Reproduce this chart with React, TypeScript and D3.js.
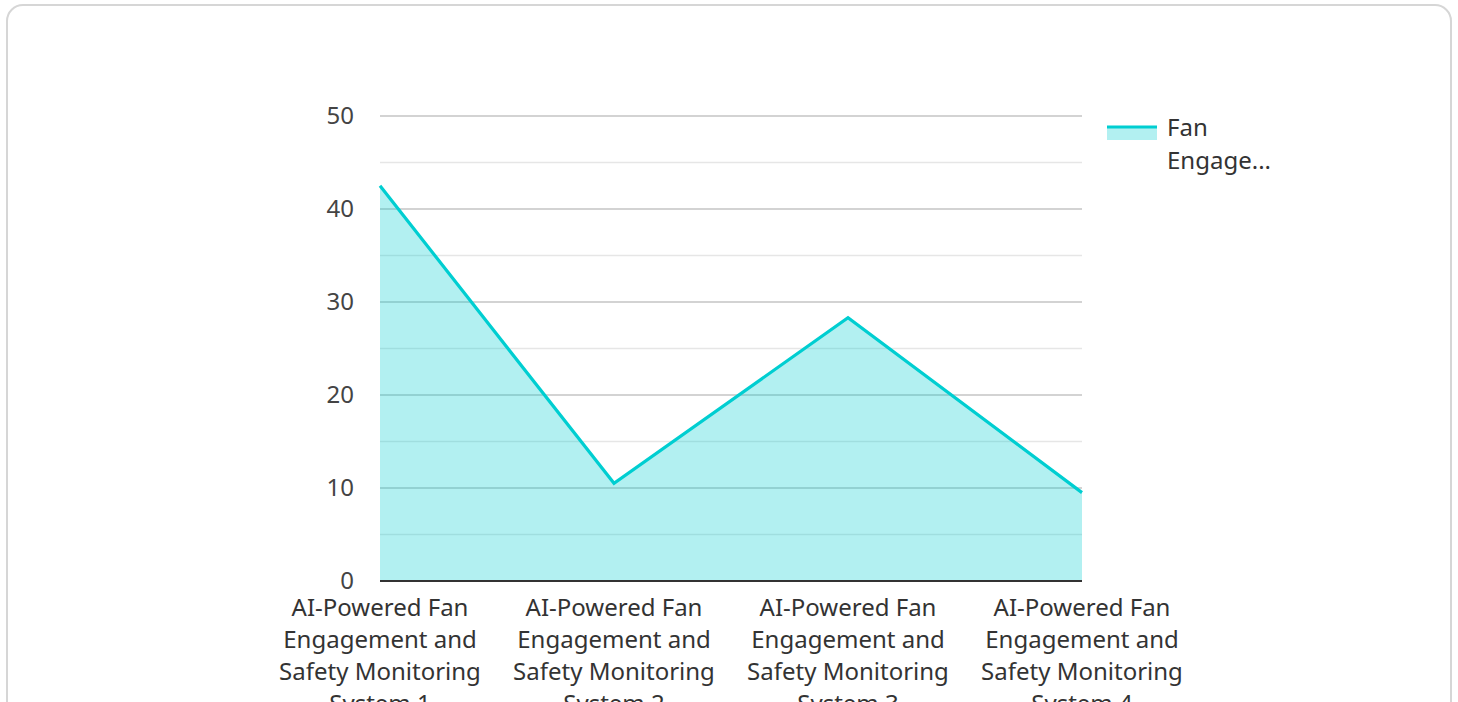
import * as d3 from "d3";

const CATEGORIES = [
  "AI-Powered Fan Engagement and Safety Monitoring System 1",
  "AI-Powered Fan Engagement and Safety Monitoring System 2",
  "AI-Powered Fan Engagement and Safety Monitoring System 3",
  "AI-Powered Fan Engagement and Safety Monitoring System 4",
];
const VALUES = [42.5, 10.5, 28.3, 9.5];
const SERIES_NAME = "Fan Engage...";
const Y_TICKS = [0, 10, 20, 30, 40, 50];
const Y_MINOR = [5, 15, 25, 35, 45];

const W = 1458;
const H = 702;
const LINE = "#00CED1";
const FONT = "'Noto Sans', sans-serif";

// split the category names the way the label wrapper does
function wrapLabel(s: string): string[] {
  const words = s.split(" ");
  return [
    words.slice(0, 2).join(" "),
    words.slice(2, 4).join(" "),
    words.slice(4, 6).join(" "),
    words.slice(6).join(" "),
  ];
}

export default function App() {
  const left = 380;
  const right = 1082;
  const top = 116;
  const bottom = 581;

  const x = d3.scalePoint<string>().domain(CATEGORIES).range([left, right]).padding(0);
  const y = d3.scaleLinear().domain([0, 50]).range([bottom, top]);

  const pts = CATEGORIES.map((c, i) => [x(c)!, y(VALUES[i])] as [number, number]);
  const line = d3.line()(pts)!;
  const area = d3
    .area<[number, number]>()
    .x(d => d[0])
    .y0(bottom)
    .y1(d => d[1])(pts)!;

  const legendWords = SERIES_NAME.split(" ");

  return (
    <svg
      width={W}
      height={H}
      style={{ position: "absolute", left: 0, top: 0, fontFamily: FONT }}
    >
      <rect x={7} y={5} width={1444} height={730} rx={16} fill="#fff" stroke="#d6d6d6" strokeWidth={2} />

      {Y_MINOR.map(t => (
        <line key={"m" + t} x1={left} x2={right} y1={y(t)} y2={y(t)} stroke="#e6e6e6" strokeWidth={1.5} />
      ))}
      {Y_TICKS.filter(t => t > 0).map(t => (
        <line key={"g" + t} x1={left} x2={right} y1={y(t)} y2={y(t)} stroke="#c4c4c4" strokeWidth={1.5} />
      ))}

      <path d={area} fill={LINE} fillOpacity={0.3} />
      <path d={line} fill="none" stroke={LINE} strokeWidth={3.2} />

      <line x1={left} x2={right} y1={bottom} y2={bottom} stroke="#333" strokeWidth={2} />

      {Y_TICKS.map(t => (
        <text
          key={"t" + t}
          x={354}
          y={y(t)}
          dy="0.35em"
          textAnchor="end"
          fontSize={24}
          fill="#444"
        >
          {t}
        </text>
      ))}

      {CATEGORIES.map(c => (
        <text key={c} textAnchor="middle" fontSize={24} fill="#333">
          {wrapLabel(c).map((ln, j) => (
            <tspan key={j} x={x(c)} y={616 + j * 32}>
              {ln}
            </tspan>
          ))}
        </text>
      ))}

      <rect x={1107} y={128} width={50} height={12} fill={LINE} fillOpacity={0.3} />
      <line x1={1107} x2={1157} y1={127} y2={127} stroke={LINE} strokeWidth={3} />
      <text fontSize={24} fill="#333">
        {legendWords.map((w, j) => (
          <tspan key={j} x={1167} y={136 + j * 33}>
            {w}
          </tspan>
        ))}
      </text>
    </svg>
  );
}
